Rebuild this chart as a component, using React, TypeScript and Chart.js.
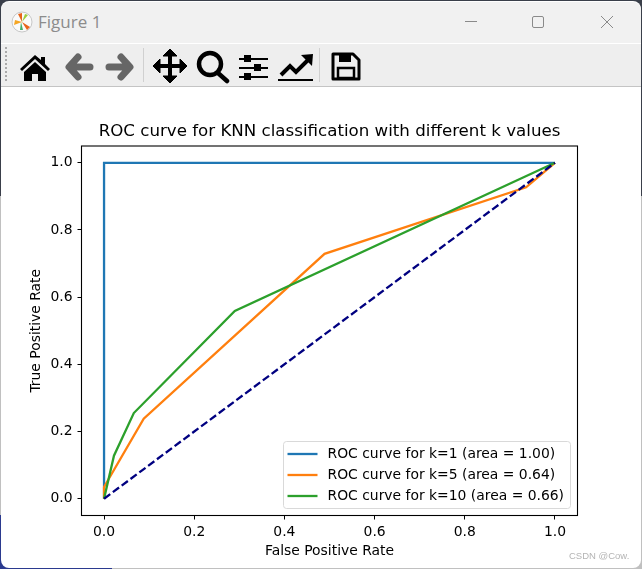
import { useEffect, useRef } from "react";
import Chart from "chart.js/auto";

const tickValues = [0, 0.2, 0.4, 0.6, 0.8, 1];

const chanceX = [0, 1];
const chanceY = [0, 1];
const k1X = [0, 0, 1];
const k1Y = [0, 1, 1];
const k5X = [0, 0, 0.088, 0.489, 0.936, 1];
const k5Y = [0, 0.035, 0.238, 0.729, 0.927, 1];
const k10X = [0, 0.022, 0.066, 0.29, 1];
const k10Y = [0, 0.128, 0.255, 0.559, 1];

const k1Label = "ROC curve for k=1 (area = 1.00)";
const k5Label = "ROC curve for k=5 (area = 0.64)";
const k10Label = "ROC curve for k=10 (area = 0.66)";

const font = "'DejaVu Sans'";

const toPoints = (xs: number[], ys: number[]) => xs.map((x, i) => ({ x, y: ys[i] }));

// frame on all four sides and the matplotlib style legend in the lower right
const framePlugin = {
  id: "frame",
  afterDatasetsDraw(chart: any) {
    const { ctx, chartArea: a } = chart;
    ctx.save();
    ctx.strokeStyle = "#000";
    ctx.lineWidth = 1.1;
    ctx.strokeRect(a.left, a.top, a.right - a.left, a.bottom - a.top);

    const items = chart.data.datasets.filter((d: any) => d.label);
    const w = 287;
    const h = 67;
    const x = a.right - 7 - w;
    const y = a.bottom - 7 - h;
    ctx.beginPath();
    ctx.roundRect(x, y, w, h, 3);
    ctx.fillStyle = "rgba(255,255,255,0.8)";
    ctx.fill();
    ctx.strokeStyle = "#d9d9d9";
    ctx.lineWidth = 1;
    ctx.stroke();
    ctx.font = `13.9px ${font}`;
    ctx.textBaseline = "middle";
    items.forEach((d: any, i: number) => {
      const rowY = y + 12.5 + i * 21;
      ctx.beginPath();
      ctx.moveTo(x + 4, rowY);
      ctx.lineTo(x + 34, rowY);
      ctx.strokeStyle = d.borderColor;
      ctx.lineWidth = 2.3;
      ctx.stroke();
      ctx.fillStyle = "#000";
      ctx.fillText(d.label, x + 44, rowY + 0.5);
    });
    ctx.restore();
  },
};

const makeAxis = (title: string, afterFit: (s: any) => void, titlePadding: any) => ({
  type: "linear" as const,
  min: -0.05,
  max: 1.05,
  afterBuildTicks: (s: any) => {
    s.ticks = tickValues.map((value) => ({ value }));
  },
  afterFit,
  border: { color: "#000", width: 1 },
  grid: { drawOnChartArea: false, drawTicks: true, tickLength: 4, tickColor: "#000" },
  ticks: {
    color: "#000",
    padding: 5,
    maxRotation: 0,
    font: { family: font, size: 13.9 },
    callback: (v: any) => Number(v).toFixed(1),
  },
  title: { display: true, text: title, color: "#000", font: { family: font, size: 13.9 }, padding: titlePadding },
});

const RocChart = () => {
  const chartRef = useRef<HTMLCanvasElement>(null);

  useEffect(() => {
    if (!chartRef.current) return;
    const chart = new Chart(chartRef.current, {
      type: "scatter",
      data: {
        datasets: [
          { label: k1Label, data: toPoints(k1X, k1Y), borderColor: "#1f77b4", order: 4 },
          { label: k5Label, data: toPoints(k5X, k5Y), borderColor: "#ff7f0e", order: 3 },
          { label: k10Label, data: toPoints(k10X, k10Y), borderColor: "#2ca02c", order: 2 },
          { data: toPoints(chanceX, chanceY), borderColor: "#000080", borderDash: [7.7, 3.3], order: 1 },
        ].map((d) => ({ ...d, showLine: true, pointRadius: 0, borderWidth: 2.3, tension: 0, clip: false })),
      },
      options: {
        animation: false,
        responsive: false,
        layout: { padding: { left: 0, right: 64.5, top: 0, bottom: 0 } },
        plugins: {
          legend: { display: false },
          tooltip: { enabled: false },
          title: {
            display: true,
            fullSize: false,
            text: "ROC curve for KNN classification with different k values",
            color: "#000",
            font: { family: font, size: 16.67, weight: "normal" },
            padding: { top: 35, bottom: 4 },
          },
        },
        scales: {
          x: makeAxis("False Positive Rate", (s) => { s.height = 53.5; }, { top: 4, bottom: 9 }),
          y: makeAxis("True Positive Rate", (s) => { s.width = 81.5; }, { top: 28, bottom: 4 }),
        },
      },
      plugins: [framePlugin],
    });
    return () => chart.destroy();
  }, []);

  return <canvas ref={chartRef} width={642} height={482} style={{ position: "absolute", left: 0, top: 87, display: "block" }} />;
};

const Icon = ({ x, w, fill, children }: any) => (
  <svg width={w} height={36} viewBox={`0 0 ${w} 36`} style={{ position: "absolute", left: x, top: 48 }} fill={fill}>
    {children}
  </svg>
);

const Toolbar = () => (
  <>
    <Icon x={20} w={30} fill="#000">
      <path d="M15 7 L21 12 L21 9 L25 9 L25 16 L30 21 L28 23 L15 11 L2 23 L0 21 Z" />
      <path d="M15 14 L26 24 L26 33 L18 33 L18 26 L12 26 L12 33 L4 33 L4 24 Z" />
    </Icon>
    <Icon x={63} w={32} fill="none">
      <path d="M15 9 L6 19 L15 29 M7 19 L27 19" stroke="#666" strokeWidth="7" strokeLinecap="round" strokeLinejoin="round" />
    </Icon>
    <Icon x={103} w={32} fill="none">
      <path d="M18 9 L27 19 L18 29 M26 19 L6 19" stroke="#666" strokeWidth="7" strokeLinecap="round" strokeLinejoin="round" />
    </Icon>
    <Icon x={153} w={34} fill="none">
      <path d="M17 6 L17 30 M5 18 L29 18" stroke="#000" strokeWidth="4" />
      <path d="M17 1 L24 8 L10 8 Z M17 35 L24 28 L10 28 Z M0 18 L7 11 L7 25 Z M34 18 L27 11 L27 25 Z" fill="#000" stroke="#000" strokeWidth="1" strokeLinejoin="round" />
    </Icon>
    <Icon x={196} w={34} fill="none">
      <circle cx="14" cy="16" r="11" stroke="#000" strokeWidth="4.5" />
      <path d="M22 25 L31 33" stroke="#000" strokeWidth="4.5" strokeLinecap="round" />
    </Icon>
    <Icon x={238} w={32} fill="none">
      <path d="M1 11 L30 11 M1 20 L30 20 M1 29 L30 29" stroke="#000" strokeWidth="2" />
      <path d="M6 7 H13 V14 H6 Z M16 16 H23 V23 H16 Z M6 25 H13 V32 H6 Z" fill="#000" />
    </Icon>
    <Icon x={278} w={36} fill="none">
      <path d="M0 32 L35 32" stroke="#000" strokeWidth="2" />
      <path d="M3 27 L12 18 L18 24 L30 12" stroke="#000" strokeWidth="4" />
      <path d="M23 7 L35 6 L34 18 Z" fill="#000" />
    </Icon>
    <Icon x={330} w={32} fill="none">
      <path d="M3 6 H23 L29 12 V31 H3 Z" stroke="#000" strokeWidth="3" strokeLinejoin="round" />
      <path d="M9 5 H21 V14 H9 Z" fill="#000" />
      <path d="M8 20 H24 V30 H8 Z" stroke="#000" strokeWidth="2.5" />
    </Icon>
    <div style={{ position: "absolute", left: 143, top: 48, width: 1, height: 34, background: "#d0d0d0" }} />
    <div style={{ position: "absolute", left: 319, top: 48, width: 1, height: 34, background: "#d0d0d0" }} />
    <div style={{ position: "absolute", left: 5, top: 47, width: 1, height: 34, borderLeft: "2px dotted #aaa" }} />
  </>
);

// what shows behind the window: dark desktop on top, then grey, blue in the lower left
const Backdrop = () => (
  <>
    <div style={{ position: "absolute", left: 0, top: 0, width: 642, height: 196, background: "#3a3f4a" }} />
    <div style={{ position: "absolute", left: 0, top: 196, width: 642, height: 373, background: "#c0c0c0" }} />
    <div style={{ position: "absolute", left: 0, top: 515, width: 112, height: 54, background: "#2b3a8f" }} />
  </>
);

const App = () => {
  useEffect(() => {
    document.body.style.margin = "0";
  }, []);

  return (
    <div style={{ position: "relative", width: 642, height: 569, overflow: "hidden", background: "#c0c0c0" }}>
      <Backdrop />
      <div style={{ position: "absolute", left: 1, top: 1, width: 640, height: 567, background: "#fff", borderRadius: 8 }} />
      <RocChart />
      <div style={{ position: "absolute", left: 1, top: 2, width: 640, height: 41, background: "#f1f1f1", borderRadius: "8px 8px 0 0" }} />
      <div style={{ position: "absolute", left: 1, top: 44, width: 640, height: 43, background: "#eeeeee", borderBottom: "1px solid #c4c4c4", boxSizing: "border-box" }} />
      <svg width={22} height={22} viewBox="0 0 22 22" style={{ position: "absolute", left: 11, top: 11 }}>
        <circle cx="11" cy="11" r="10" fill="#fafafa" stroke="#c8c8c8" />
        <path d="M11 11 L4 9 L3 14 Z" fill="#f5a623" />
        <path d="M11 11 L7 3 L11 2 Z" fill="#e8641b" />
        <path d="M11 11 L19 16 L16 19 Z" fill="#e8641b" />
        <path d="M11 11 L17 4 L14 3 Z" fill="#9ccc3c" />
        <path d="M10 11 L9 19 L12 19 Z" fill="#3fae6a" />
      </svg>
      <div style={{ position: "absolute", left: 38, top: 10, fontFamily: "'Open Sans'", fontSize: 17, lineHeight: "24px", color: "#8c8c8c" }}>Figure 1</div>
      <div style={{ position: "absolute", left: 465, top: 21, width: 12, height: 1, background: "#8a8a8a" }} />
      <div style={{ position: "absolute", left: 532, top: 16, width: 12, height: 12, border: "1px solid #8a8a8a", borderRadius: 2, boxSizing: "border-box" }} />
      <svg width={14} height={14} style={{ position: "absolute", left: 600, top: 15 }}>
        <path d="M1 1 L13 13 M13 1 L1 13" stroke="#8a8a8a" strokeWidth="1" />
      </svg>
      <Toolbar />
      <div style={{ position: "absolute", left: 569, top: 550, fontFamily: "'Liberation Sans'", fontSize: 9.5, lineHeight: "12px", color: "#b4b4b4" }}>CSDN @Cow.</div>
    </div>
  );
};

export default App;
